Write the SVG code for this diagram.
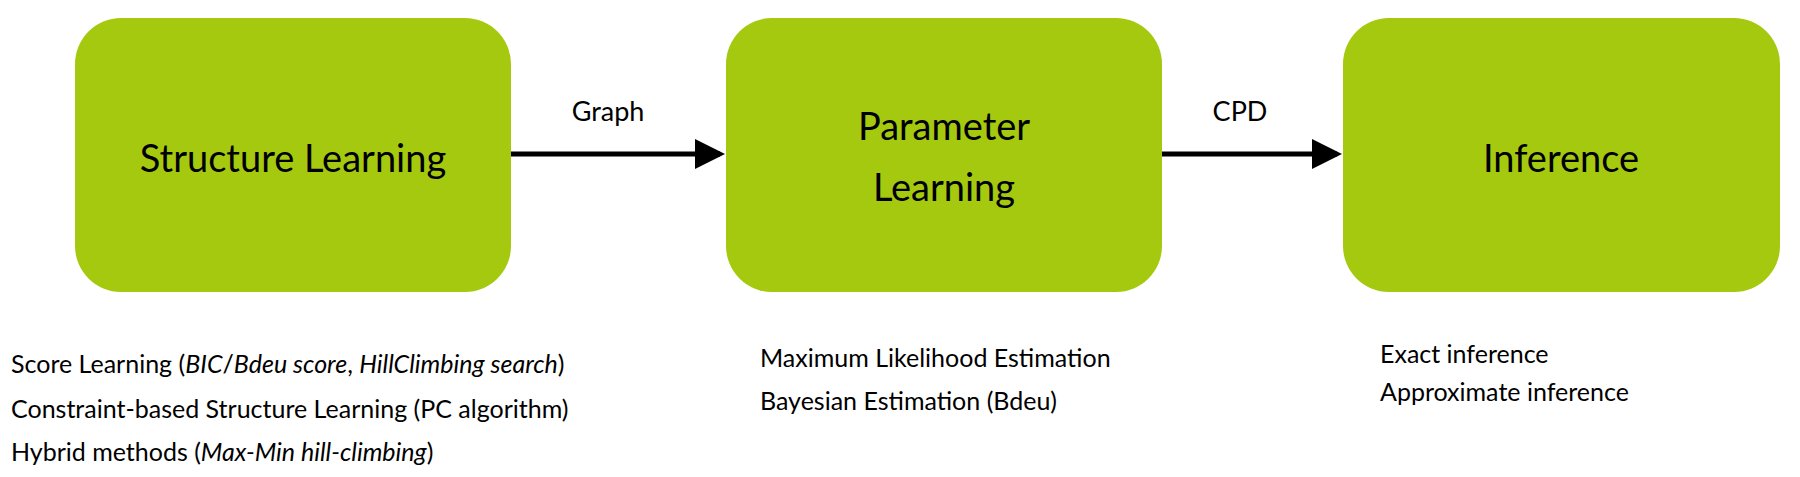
<svg xmlns="http://www.w3.org/2000/svg" width="1800" height="477" viewBox="0 0 1800 477">
<style>
.box{fill:#a5c90f}
.t{font-family:Lato,"Open Sans",sans-serif;fill:#000}
.big{font-size:38px;text-anchor:middle}
.lab{font-size:27px;text-anchor:middle}
.sm{font-size:25px}
.c{stroke:#000;stroke-width:5;fill:none}
</style>
<defs><marker id="ah" markerWidth="6" markerHeight="6" refX="5" refY="3" orient="auto" markerUnits="strokeWidth"><path d="M0,0L6,3L0,6z" fill="#000"/></marker></defs>
<rect width="1800" height="477" fill="#fff"/>
<g id="connectors">
<line class="c" x1="511" y1="154" x2="720" y2="154" marker-end="url(#ah)"/>
<line class="c" x1="1162" y1="154" x2="1337" y2="154" marker-end="url(#ah)"/>
<text class="t lab" x="608" y="121">Graph</text>
<text class="t lab" x="1240" y="121">CPD</text>
</g>
<g id="structure"><rect class="box" x="75" y="18" width="436" height="274" rx="46"/>
<text class="t big" x="293" y="172">Structure Learning</text></g>
<g id="parameter"><rect class="box" x="726" y="18" width="436" height="274" rx="46"/>
<text class="t big" x="944" y="140">Parameter</text><text class="t big" x="944" y="201">Learning</text></g>
<g id="inference"><rect class="box" x="1343" y="18" width="437" height="274" rx="46"/>
<text class="t big" x="1561" y="172">Inference</text></g>
<g id="notes">
<text class="t sm" x="11" y="373">Score Learning (<tspan font-style="italic">BIC</tspan>/<tspan font-style="italic">Bdeu score</tspan>, <tspan font-style="italic">HillClimbing search</tspan>)</text>
<text class="t sm" x="11" y="418">Constraint-based Structure Learning (PC algorithm)</text>
<text class="t sm" x="11" y="461">Hybrid methods (<tspan font-style="italic">Max-Min hill-climbing</tspan>)</text>
<text class="t sm" x="760" y="367">Maximum Likelihood Estimation</text>
<text class="t sm" x="760" y="410">Bayesian Estimation (Bdeu)</text>
<text class="t sm" x="1380" y="363">Exact inference</text>
<text class="t sm" x="1380" y="401">Approximate inference</text>
</g>
</svg>
